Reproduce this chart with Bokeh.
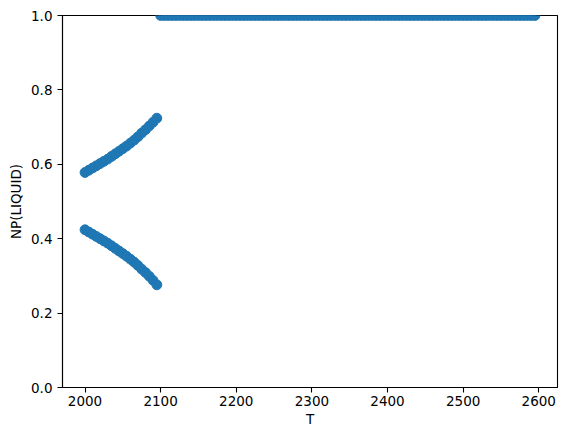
from bokeh.plotting import figure
from bokeh.models import FixedTicker, Range1d, NumeralTickFormatter
from bokeh.embed import file_html
from bokeh.resources import INLINE

# Two-phase region (miscibility gap), T in K
t_gap = [2000, 2005, 2010, 2015, 2020, 2025, 2030, 2035, 2040, 2045,
         2050, 2055, 2060, 2065, 2070, 2075, 2080, 2085, 2090, 2095]
np_upper = [0.578, 0.584, 0.590, 0.596, 0.602, 0.608, 0.614, 0.621, 0.628, 0.635,
            0.642, 0.649, 0.657, 0.665, 0.674, 0.684, 0.693, 0.703, 0.713, 0.724]
np_lower = [0.424, 0.418, 0.412, 0.406, 0.400, 0.394, 0.388, 0.381, 0.374, 0.367,
            0.360, 0.353, 0.345, 0.337, 0.328, 0.318, 0.309, 0.299, 0.288, 0.276]

# Single liquid region
t_single = list(range(2100, 2600, 5))
np_single = [1.0] * len(t_single)

x_ticks = [2000, 2100, 2200, 2300, 2400, 2500, 2600]
y_ticks = [0.0, 0.2, 0.4, 0.6, 0.8, 1.0]

COLOR = "#1f77b4"
FONT = "DejaVu Sans"
FS = "13.5px"

p = figure(width=567, height=438, output_backend="svg", toolbar_location=None,
           x_range=Range1d(1970.25, 2624.75), y_range=Range1d(0, 1),
           min_border_left=62, min_border_right=10, min_border_top=15, min_border_bottom=51)

p.scatter(t_gap, np_upper, size=9.8, marker="circle", fill_color=COLOR, line_color=COLOR)
p.scatter(t_gap, np_lower, size=9.8, marker="circle", fill_color=COLOR, line_color=COLOR)
p.scatter(t_single, np_single, size=9.8, marker="circle", fill_color=COLOR, line_color=COLOR)

p.grid.visible = False
p.outline_line_color = "black"
p.outline_line_alpha = 1.0
p.outline_line_width = 1.1

p.xaxis.ticker = FixedTicker(ticks=x_ticks)
p.yaxis.ticker = FixedTicker(ticks=y_ticks)
p.yaxis.formatter = NumeralTickFormatter(format="0.0")
p.xaxis.axis_label = "T"
p.yaxis.axis_label = "NP(LIQUID)"

for ax in (p.xaxis, p.yaxis):
    ax.axis_line_color = "black"
    ax.axis_line_width = 1.1
    ax.major_tick_line_color = "black"
    ax.major_tick_line_width = 1.1
    ax.major_tick_out = 5
    ax.major_tick_in = 0
    ax.minor_tick_line_color = None
    ax.major_label_text_font = FONT
    ax.major_label_text_font_size = FS
    ax.major_label_text_color = "black"
    ax.axis_label_text_font = FONT
    ax.axis_label_text_font_size = FS
    ax.axis_label_text_font_style = "normal"
    ax.axis_label_text_color = "black"

p.xaxis.major_label_standoff = 3
p.xaxis.axis_label_standoff = 2
p.yaxis.major_label_standoff = 5
p.yaxis.axis_label_standoff = 4

p.background_fill_color = "white"
p.border_fill_color = "white"

open("out.html", "w").write(file_html(p, INLINE))
